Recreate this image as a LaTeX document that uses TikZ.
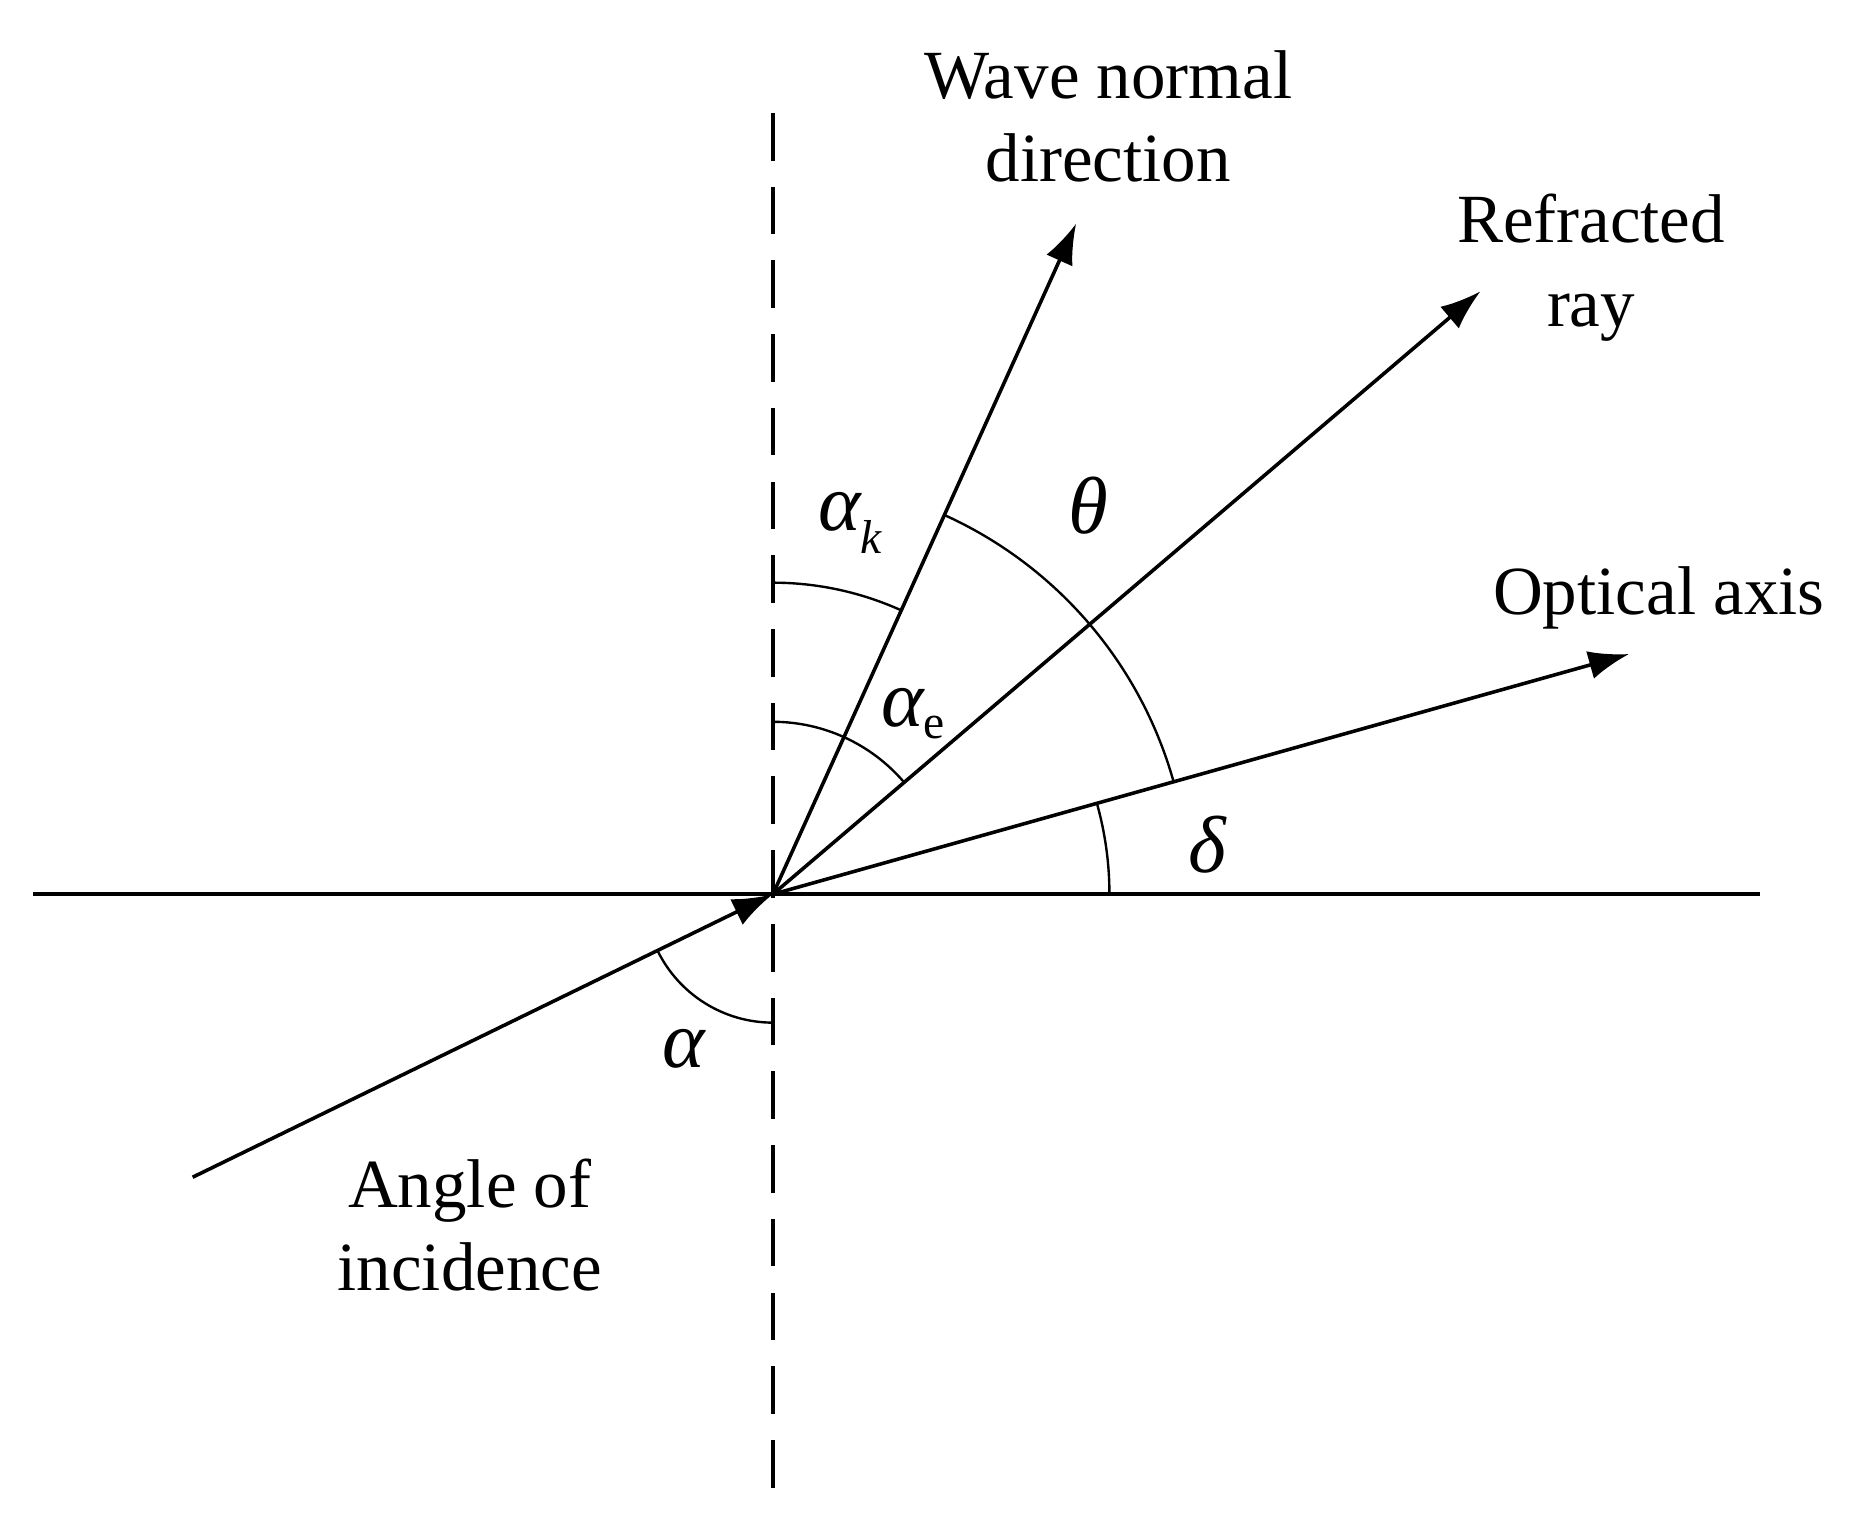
\documentclass[tikz,border=0pt]{standalone}
\usepackage{fontspec}
\setmainfont{Liberation Serif}
\usetikzlibrary{arrows.meta}
\begin{document}
\begin{tikzpicture}[x=1pt,y=-1pt,line width=3pt,
  ray/.style={-{Latex[length=34pt,width=24pt]}},
  lbl/.style={font=\fontsize{58}{70}\selectfont,align=center},
  mlbl/.style={font=\fontsize{68}{70}\selectfont\itshape},
  arcl/.style={line width=2pt}]
\useasboundingbox (0,0) rectangle (1560,1285);
\coordinate (O) at (650,752);
\coordinate (L) at (28,752);
\coordinate (R) at (1480,752);
\coordinate (T) at (650,95);
\coordinate (B) at (650,1255);
\coordinate (W) at (905,188);
\coordinate (F) at (1245,245);
\coordinate (X) at (1370,550);
\coordinate (I) at (162,990);
\draw (L) -- (R);
\draw[dash pattern=on 40pt off 22pt] (T) -- (B);
\draw[ray] (O) -- (W);
\draw[ray] (O) -- (F);
\draw[ray] (O) -- (X);
\draw[ray] (I) -- (O);
\begin{scope}[y=1pt]
\draw[arcl] ([shift={(270:108)}]O) arc[start angle=270,end angle=206,radius=108];
\draw[arcl] ([shift={(90:262)}]O) arc[start angle=90,end angle=65.7,radius=262];
\draw[arcl] ([shift={(90:145)}]O) arc[start angle=90,end angle=40.4,radius=145];
\draw[arcl] ([shift={(65.7:350)}]O) arc[start angle=65.7,end angle=15.7,radius=350];
\draw[arcl] ([shift={(0:283)}]O) arc[start angle=0,end angle=15.7,radius=283];
\end{scope}
\node[lbl] (wn) at (932,98) {Wave normal\\direction};
\node[lbl] (rr) at (1338,225) {Refracted\\ray};
\node[lbl] (oa) at (1395,503) {Optical axis};
\node[lbl] (ai) at (395,1030) {Angle of\\incidence};
\node[mlbl] (th) at (915,425) {θ};
\node[mlbl] (ak) at (715,440) {α\textsubscript{\fontsize{40}{40}\selectfont k}};
\node[mlbl] (ae) at (768,600) {α\textsubscript{\fontsize{40}{40}\selectfont\upshape e}};
\node[mlbl] (de) at (1015,710) {δ};
\node[mlbl] (al) at (575,882) {α};
\end{tikzpicture}
\end{document}
